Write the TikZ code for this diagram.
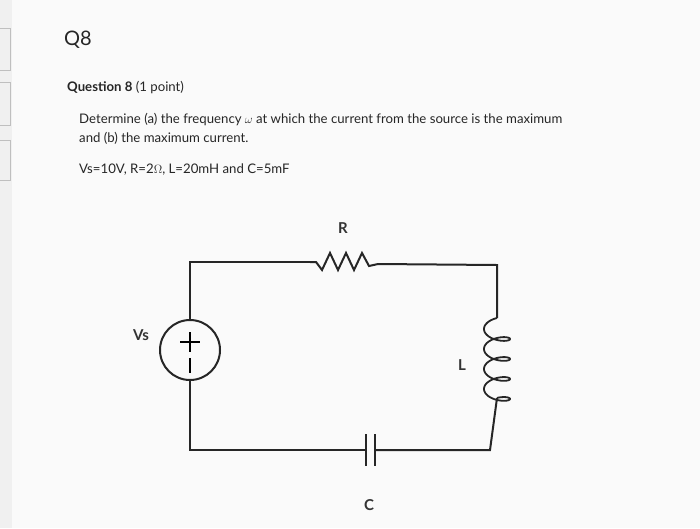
\documentclass[tikz,border=0pt]{standalone}
\usepackage{fontspec}
\setmainfont{Lato}
\begin{document}
\begin{tikzpicture}[x=1pt,y=-1pt,
  wire/.style={line width=2pt,draw=black!85},
  txt/.style={anchor=west,inner sep=0pt,font=\fontsize{13.2}{15}\selectfont,text=black!85},
  lbl/.style={inner sep=0pt,font=\bfseries\fontsize{15}{17}\selectfont,text=black!80}]
\useasboundingbox (0,0) rectangle (700,528);
\fill[gray!12] (0,0) rectangle (700,528);
\fill[white!60!gray!10] (12,0) rectangle (700,528);
\draw[gray!50] (0,28) -- (10,28) -- (10,70) -- (0,70);
\draw[gray!50] (0,82) -- (10,82) -- (10,125) -- (0,125);
\draw[gray!50] (0,140) -- (10,140) -- (10,180) -- (0,180);
\node[txt,font=\fontsize{20}{22}\selectfont] (q) at (64,40) {Q8};
\node[txt] (t1) at (67,88) {\textbf{Question 8} (1 point)};
\node[txt] (t2) at (79,120) {Determine (a) the frequency $\omega$ at which the current from the source is the maximum};
\node[txt] (t3) at (79,138) {and (b) the maximum current.};
\node[txt] (t4) at (79,170) {Vs=10V, R=2$\Omega$, L=20mH and C=5mF};
\coordinate (tl) at (190,262);
\coordinate (r1) at (310,262);
\coordinate (r2) at (378,264);
\coordinate (tr) at (497,265);
\coordinate (l1) at (497,318);
\coordinate (l2) at (497,398);
\coordinate (br) at (490,450);
\coordinate (c2) at (375,450);
\coordinate (c1) at (366,450);
\coordinate (bl) at (190,450);
\node[circle,draw=black!85,line width=2pt,minimum size=60pt,inner sep=0pt] (vs) at (190,350) {};
\draw[line width=1.6pt] (180,342) -- (200,342) (190,332) -- (190,352);
\draw[line width=1.6pt] (190,358) -- (190,373);
\draw[wire] (vs.north) -- (tl) -- (r1);
\draw[wire] (r1) -- (316,262) -- (322,270) -- (330,253) -- (338,270) -- (346,253) -- (354,270) -- (362,253) -- (369,266) -- (r2) -- (tr) -- (l1);
\draw[wire,line width=1.8pt] plot[domain=0:25.13,samples=240,smooth] ({497-13*sin(\x r)},{318+3.18*\x+6-6*cos(\x r)});
\draw[wire] (l2) -- (br) -- (c2);
\draw[wire] (c1) -- (bl) -- (vs.south);
\draw[wire] (366,434) -- (366,466) (375,434) -- (375,466);
\node[lbl] (R) at (343,228) {R};
\node[lbl] (L) at (462,365) {L};
\node[lbl] (C) at (369,505) {C};
\node[lbl] (V) at (141,335) {Vs};
\end{tikzpicture}
\end{document}
